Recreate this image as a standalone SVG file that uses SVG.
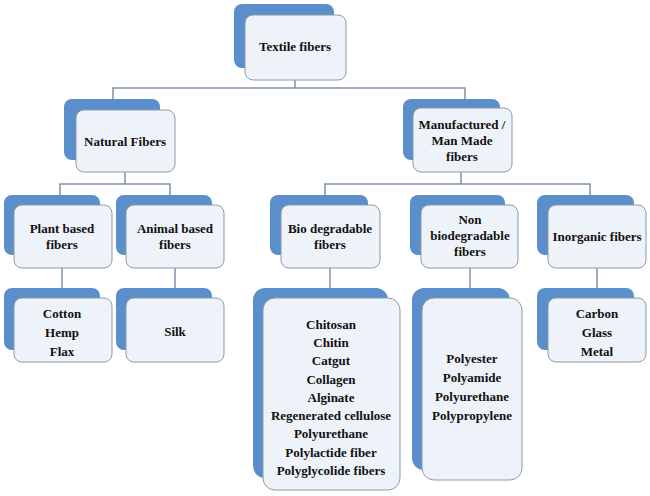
<svg xmlns="http://www.w3.org/2000/svg" width="650" height="496" viewBox="0 0 650 496">
<style>
.b{fill:#5b8fcc}
.f{fill:#eef3fa;stroke:#8f9aa8;stroke-width:1}
text{font-family:"Liberation Serif",serif;font-weight:bold;font-size:13px;fill:#111;text-anchor:middle}
.c{fill:none;stroke:#7d93a8;stroke-width:1.5}
</style>
<rect width="650" height="496" fill="#fff"/>
<g id="connectors">
<path class="c" d="M295 80V88M113 100V88H465V100"/>
<path class="c" d="M125 172V184M60 196V184H170V196"/>
<path class="c" d="M461 172V184M325 196V184H590V196"/>
<path class="c" d="M62 268V290M175 268V290M330 268V290M470 268V290M597 268V290"/>
</g>
<g id="textile"><rect class="b" x="234" y="4" width="100" height="64" rx="8"/><rect class="f" x="245" y="15" width="101" height="65" rx="8"/><text x="295" y="51">Textile fibers</text></g>
<g id="natural"><rect class="b" x="64" y="99" width="96" height="61" rx="8"/><rect class="f" x="76" y="110" width="99" height="62" rx="8"/><text x="125" y="146">Natural Fibers</text></g>
<g id="manufactured"><rect class="b" x="403" y="99" width="97" height="61" rx="8"/><rect class="f" x="413" y="108" width="99" height="64" rx="8"/><text x="462" y="129">Manufactured /</text><text x="462" y="145">Man Made</text><text x="462" y="161">fibers</text></g>
<g id="plant"><rect class="b" x="4" y="195" width="96" height="60" rx="8"/><rect class="f" x="14" y="205" width="98" height="63" rx="8"/><text x="62" y="233">Plant based</text><text x="62" y="249">fibers</text></g>
<g id="animal"><rect class="b" x="116" y="195" width="96" height="60" rx="8"/><rect class="f" x="126" y="205" width="98" height="63" rx="8"/><text x="175" y="233">Animal based</text><text x="175" y="249">fibers</text></g>
<g id="bio"><rect class="b" x="270" y="195" width="98" height="60" rx="8"/><rect class="f" x="281" y="205" width="99" height="63" rx="8"/><text x="330" y="233">Bio degradable</text><text x="330" y="249">fibers</text></g>
<g id="nonbio"><rect class="b" x="410" y="195" width="95" height="60" rx="8"/><rect class="f" x="421" y="205" width="97" height="63" rx="8"/><text x="470" y="224">Non</text><text x="470" y="240">biodegradable</text><text x="470" y="256">fibers</text></g>
<g id="inorganic"><rect class="b" x="537" y="195" width="97" height="60" rx="8"/><rect class="f" x="548" y="205" width="98" height="63" rx="8"/><text x="597" y="241">Inorganic fibers</text></g>
<g id="plantlist"><rect class="b" x="4" y="288" width="96" height="62" rx="8"/><rect class="f" x="14" y="298" width="98" height="64" rx="8"/><text x="62" y="318">Cotton</text><text x="62" y="337">Hemp</text><text x="62" y="356">Flax</text></g>
<g id="silk"><rect class="b" x="116" y="288" width="96" height="62" rx="8"/><rect class="f" x="126" y="298" width="98" height="64" rx="8"/><text x="175" y="336">Silk</text></g>
<g id="biolist"><rect class="b" x="253" y="288" width="135" height="190" rx="12"/><rect class="f" x="263" y="298" width="137" height="192" rx="12"/>
<text x="331" y="329">Chitosan</text><text x="331" y="347">Chitin</text><text x="331" y="365">Catgut</text><text x="331" y="384">Collagen</text><text x="331" y="402">Alginate</text><text x="331" y="420">Regenerated cellulose</text><text x="331" y="438">Polyurethane</text><text x="331" y="457">Polylactide fiber</text><text x="331" y="475">Polyglycolide fibers</text></g>
<g id="nonbiolist"><rect class="b" x="412" y="288" width="98" height="182" rx="12"/><rect class="f" x="422" y="298" width="100" height="182" rx="12"/>
<text x="472" y="363">Polyester</text><text x="472" y="382">Polyamide</text><text x="472" y="401">Polyurethane</text><text x="472" y="420">Polypropylene</text></g>
<g id="inorglist"><rect class="b" x="537" y="288" width="97" height="62" rx="8"/><rect class="f" x="548" y="298" width="98" height="64" rx="8"/><text x="597" y="318">Carbon</text><text x="597" y="337">Glass</text><text x="597" y="356">Metal</text></g>
</svg>
